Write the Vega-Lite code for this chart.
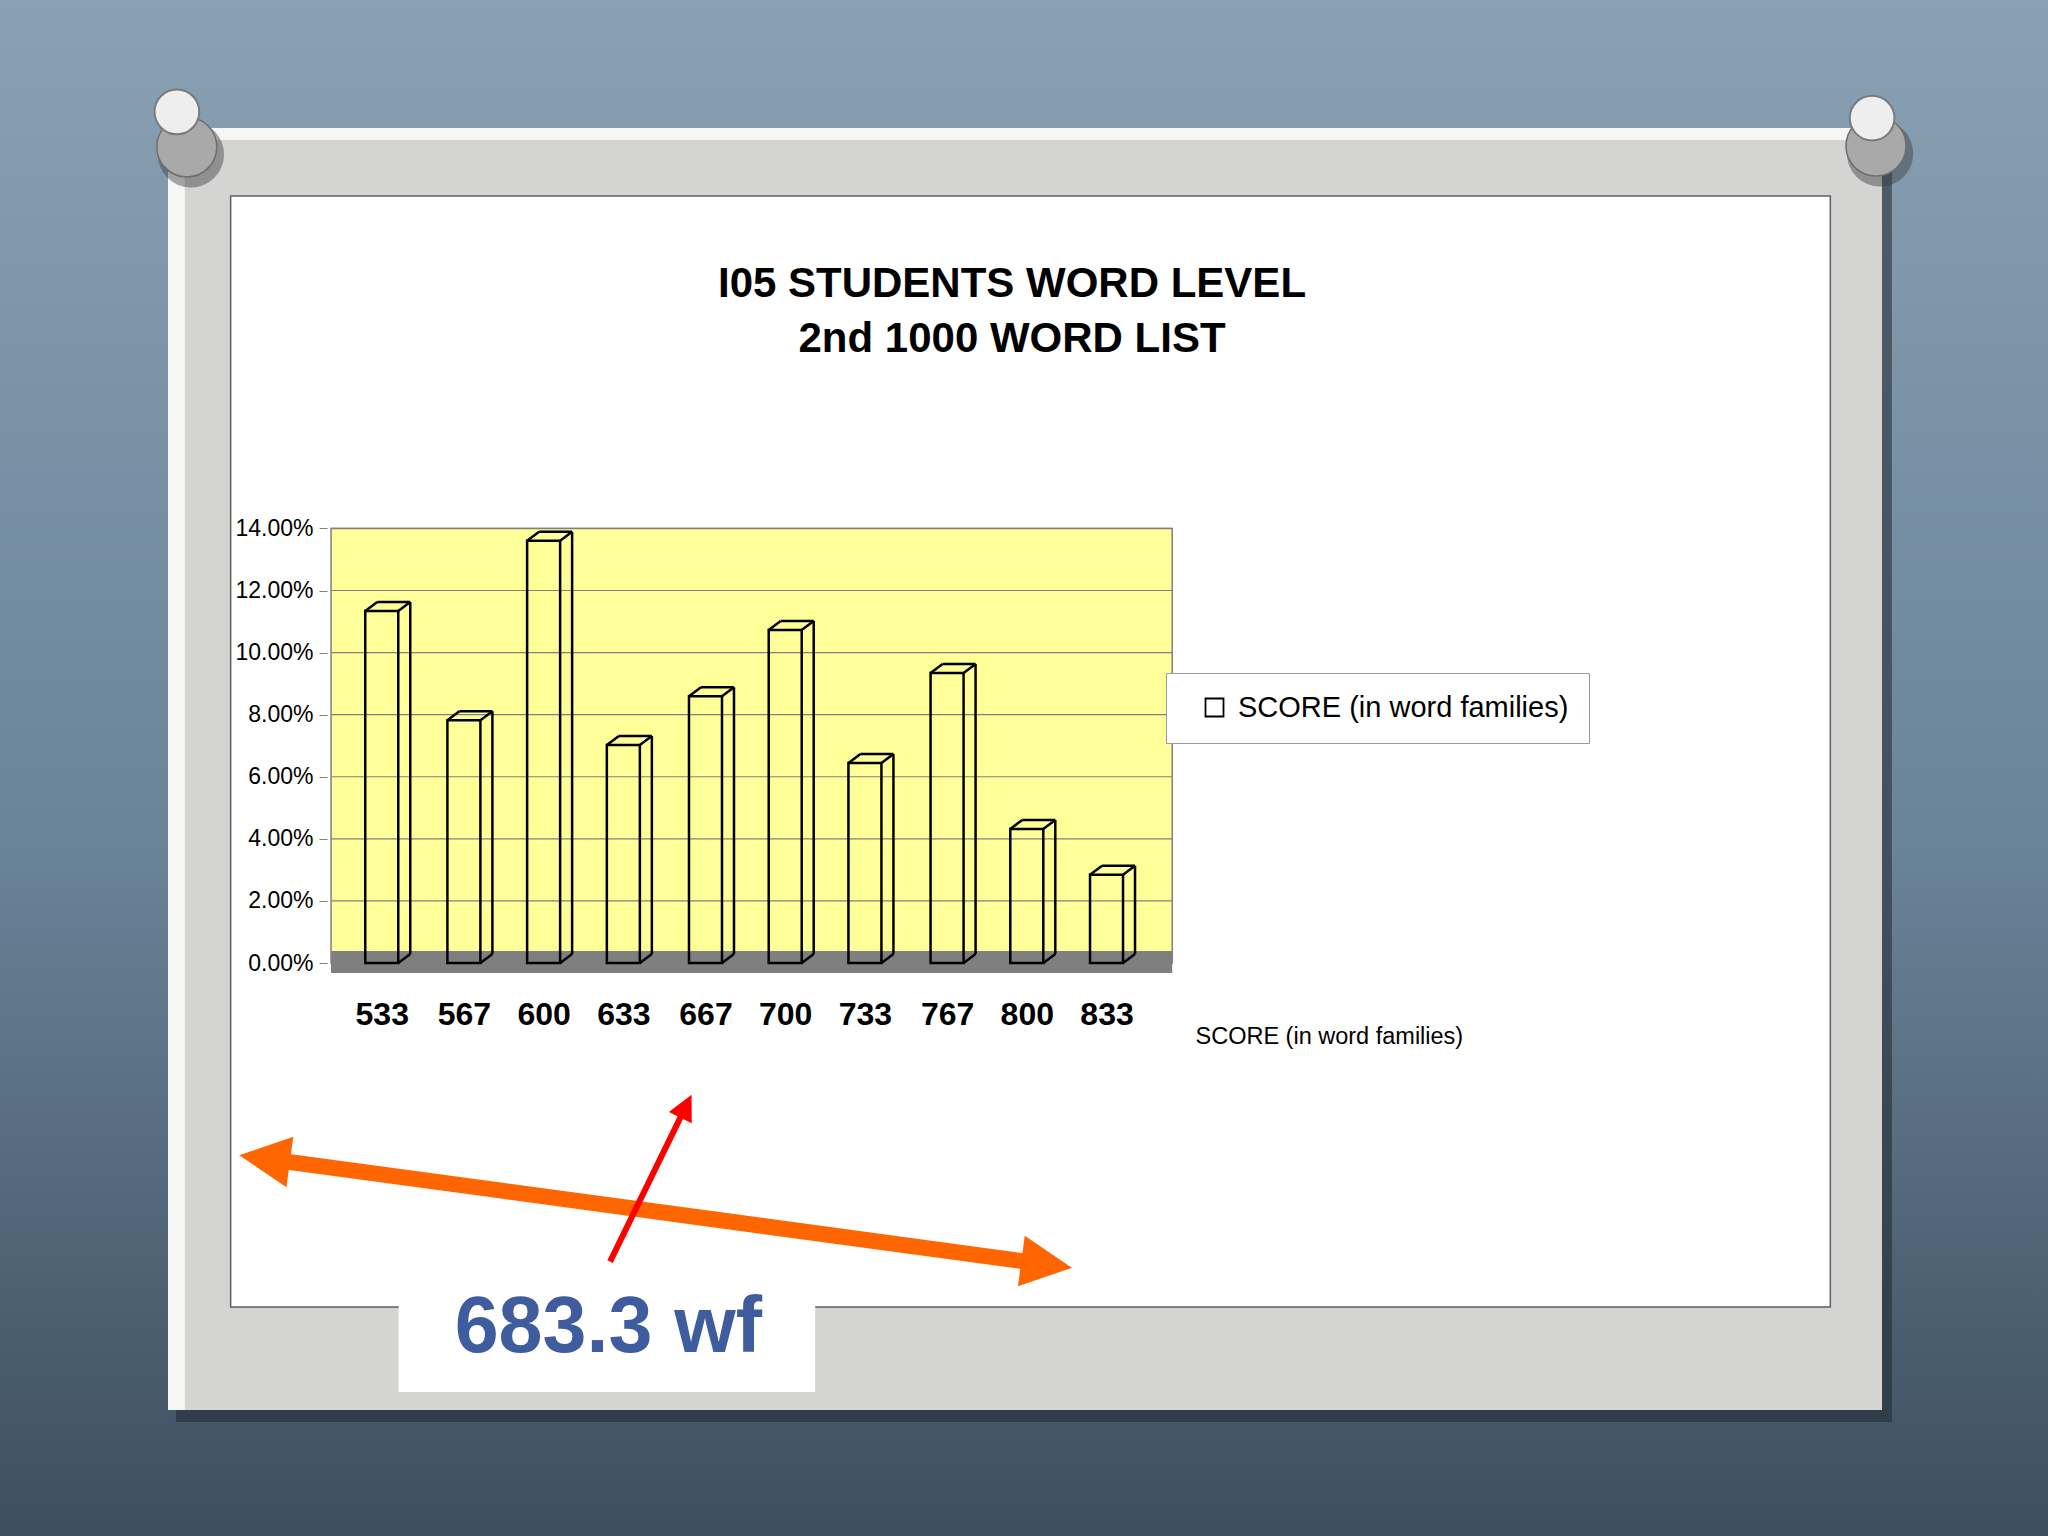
{
  "$schema": "https://vega.github.io/schema/vega-lite/v6.json",
  "width": 1724,
  "height": 1282,
  "autosize": {"type": "none"},
  "padding": {"left": 163, "top": 128, "right": 161, "bottom": 126},
  "background": "#6a8295",
  "config": {
    "view": {"fill": null, "stroke": null},
    "font": "Liberation Sans"
  },
  "title": {
    "text": ["I05 STUDENTS WORD LEVEL", "2nd 1000 WORD LIST"],
    "orient": "top",
    "anchor": "middle",
    "frame": "group",
    "offset": 0,
    "baseline": "alphabetic",
    "dy": 394,
    "dx": -13,
    "font": "Liberation Sans",
    "fontSize": 42,
    "fontWeight": "bold",
    "color": "black",
    "lineHeight": 55
  },
  "data": {
    "values": [
      {"score": 533, "pct": 0.1134, "series": "SCORE (in word families)"},
      {"score": 567, "pct": 0.0782, "series": "SCORE (in word families)"},
      {"score": 600, "pct": 0.1360, "series": "SCORE (in word families)"},
      {"score": 633, "pct": 0.0702, "series": "SCORE (in word families)"},
      {"score": 667, "pct": 0.0859, "series": "SCORE (in word families)"},
      {"score": 700, "pct": 0.1073, "series": "SCORE (in word families)"},
      {"score": 733, "pct": 0.0644, "series": "SCORE (in word families)"},
      {"score": 767, "pct": 0.0934, "series": "SCORE (in word families)"},
      {"score": 800, "pct": 0.0432, "series": "SCORE (in word families)"},
      {"score": 833, "pct": 0.0284, "series": "SCORE (in word families)"}
    ]
  },
  "layer": [
    {
      "data": {"values": [{}]},
      "mark": {
        "type": "rect",
        "fill": {
          "gradient": "linear",
          "x1": 0, "y1": 0, "x2": 0, "y2": 1,
          "stops": [
            {"offset": 0, "color": "#8aa1b3"},
            {"offset": 0.55, "color": "#6b8397"},
            {"offset": 1, "color": "#3d4e5f"}
          ]
        }
      },
      "encoding": {
        "x": {"datum": 370},
        "x2": {"datum": 1230},
        "y": {"datum": 0.3102},
        "y2": {"datum": -0.1846}
      }
    },
    {
      "data": {"values": [{}]},
      "mark": {"type": "rect", "color": "#1f2831", "opacity": 0.55},
      "encoding": {
        "x": {"datum": 447.8},
        "x2": {"datum": 1158.1},
        "y": {"datum": 0.2658},
        "y2": {"datum": -0.1479}
      }
    },
    {
      "data": {"values": [{}]},
      "mark": {"type": "rect", "color": "#d4d4d2"},
      "encoding": {
        "x": {"datum": 444.52},
        "x2": {"datum": 1153.99},
        "y": {"datum": 0.269},
        "y2": {"datum": -0.144}
      }
    },
    {
      "data": {"values": [{}]},
      "mark": {"type": "rect", "color": "#f6f6f4"},
      "encoding": {
        "x": {"datum": 444.52},
        "x2": {"datum": 1153.99},
        "y": {"datum": 0.269},
        "y2": {"datum": 0.2651}
      }
    },
    {
      "data": {"values": [{}]},
      "mark": {"type": "rect", "color": "#f6f6f4"},
      "encoding": {
        "x": {"datum": 444.52},
        "x2": {"datum": 451.5},
        "y": {"datum": 0.269},
        "y2": {"datum": -0.144}
      }
    },
    {
      "data": {"values": [{}]},
      "mark": {"type": "rect", "fill": "white", "stroke": "#5f5f5f", "strokeWidth": 1.5},
      "encoding": {
        "x": {"datum": 470.45},
        "x2": {"datum": 1132.6},
        "y": {"datum": 0.2471},
        "y2": {"datum": -0.1108}
      }
    },
    {
      "data": {"values": [{}]},
      "mark": {"type": "rect", "fill": "white"},
      "encoding": {
        "x": {"datum": 540.0},
        "x2": {"datum": 712.4},
        "y": {"datum": -0.1086},
        "y2": {"datum": -0.1382}
      }
    },
    {
      "data": {"values": [{}]},
      "mark": {"type": "rect", "fill": "#ffff99", "stroke": "#808080", "strokeWidth": 1.5},
      "encoding": {
        "x": {"datum": 512.0},
        "x2": {"datum": 860.2},
        "y": {"datum": 0.14},
        "y2": {"datum": 0}
      }
    },
    {
      "data": {"values": [{}]},
      "mark": {"type": "rect", "fill": "#7f7f7f"},
      "encoding": {
        "x": {"datum": 512.0},
        "x2": {"datum": 860.2},
        "y": {"datum": 0.0039},
        "y2": {"datum": -0.0032}
      }
    },
    {
      "data": {
        "values": [
          {"level": 0.02}, {"level": 0.04}, {"level": 0.06}, {"level": 0.08},
          {"level": 0.10}, {"level": 0.12}, {"level": 0.14}
        ]
      },
      "mark": {"type": "rule", "color": "#808080", "strokeWidth": 1.2},
      "encoding": {
        "x": {"datum": 512.0},
        "x2": {"datum": 860.2},
        "y": {"field": "level", "type": "quantitative"}
      }
    },
    {
      "mark": {"type": "bar", "orient": "vertical", "size": 33, "fill": "transparent", "strokeWidth": 2.5},
      "encoding": {
        "x": {
          "field": "score",
          "type": "quantitative",
          "scale": {"domain": [444.52, 1153.99], "nice": false, "zero": false},
          "axis": {
            "values": [533, 567, 600, 633, 667, 700, 733, 767, 800, 833],
            "format": "d",
            "offset": -437,
            "zindex": 2,
            "domain": false,
            "ticks": false,
            "grid": false,
            "labelFont": "Liberation Sans Narrow, Liberation Sans",
            "labelFontWeight": "bold",
            "labelFontSize": 32,
            "labelColor": "black",
            "labelPadding": 26,
            "title": "SCORE (in word families)",
            "titleFont": "Liberation Sans",
            "titleFontWeight": "normal",
            "titleFontSize": 23.5,
            "titleColor": "black",
            "titleX": 1032,
            "titleY": 70,
            "titleAlign": "left",
            "titleBaseline": "alphabetic"
          }
        },
        "y": {
          "field": "pct",
          "type": "quantitative",
          "scale": {"domain": [-0.144, 0.269], "nice": false, "zero": false},
          "axis": {
            "values": [0, 0.02, 0.04, 0.06, 0.08, 0.10, 0.12, 0.14],
            "format": ".2%",
            "offset": -164,
            "zindex": 2,
            "domain": false,
            "grid": false,
            "tickSize": 8,
            "tickColor": "#808080",
            "labelFont": "Liberation Sans",
            "labelFontSize": 23,
            "labelPadding": 6,
            "labelColor": "black",
            "title": null
          }
        },
        "y2": {"datum": 0},
        "stroke": {
          "field": "series",
          "type": "nominal",
          "scale": {"range": ["#000000"]},
          "legend": {
            "orient": "none",
            "legendX": 1003,
            "legendY": 545,
            "zindex": 2,
            "title": null,
            "fillColor": "white",
            "strokeColor": "#9b9b9b",
            "padding": 20,
            "symbolType": "square",
            "symbolSize": 324,
            "symbolFillColor": "white",
            "symbolStrokeColor": "black",
            "symbolStrokeWidth": 1.8,
            "symbolOffset": 14,
            "labelFont": "Liberation Sans",
            "labelFontSize": 29,
            "labelLimit": 600,
            "labelColor": "black",
            "labelOffset": 9
          }
        }
      }
    },
    {
      "mark": {"type": "rule", "color": "black", "strokeWidth": 2.5, "xOffset": 28.5, "yOffset": -9, "y2Offset": -9},
      "encoding": {
        "x": {"field": "score", "type": "quantitative"},
        "y": {"field": "pct", "type": "quantitative"},
        "y2": {"datum": 0}
      }
    },
    {
      "mark": {"type": "rule", "color": "black", "strokeWidth": 2.5, "xOffset": -4.5, "x2Offset": 28.5, "yOffset": -9},
      "encoding": {
        "x": {"field": "score", "type": "quantitative"},
        "x2": {"field": "score"},
        "y": {"field": "pct", "type": "quantitative"}
      }
    },
    {
      "mark": {"type": "rule", "color": "black", "strokeWidth": 2.5, "xOffset": -16.5, "x2Offset": -4.5, "y2Offset": -9},
      "encoding": {
        "x": {"field": "score", "type": "quantitative"},
        "x2": {"field": "score"},
        "y": {"field": "pct", "type": "quantitative"},
        "y2": {"field": "pct"}
      }
    },
    {
      "mark": {"type": "rule", "color": "black", "strokeWidth": 2.5, "xOffset": 16.5, "x2Offset": 28.5, "y2Offset": -9},
      "encoding": {
        "x": {"field": "score", "type": "quantitative"},
        "x2": {"field": "score"},
        "y": {"field": "pct", "type": "quantitative"},
        "y2": {"field": "pct"}
      }
    },
    {
      "mark": {"type": "rule", "color": "black", "strokeWidth": 2.5, "xOffset": 16.5, "x2Offset": 28.5, "y2Offset": -9},
      "encoding": {
        "x": {"field": "score", "type": "quantitative"},
        "x2": {"field": "score"},
        "y": {"datum": 0},
        "y2": {"datum": 0}
      }
    },
    {
      "data": {"values": [{}]},
      "mark": {"type": "rule", "color": "#ff6600", "strokeWidth": 16, "strokeCap": "butt"},
      "encoding": {
        "x": {"datum": 484.5},
        "x2": {"datum": 808.2},
        "y": {"datum": -0.063},
        "y2": {"datum": -0.0971}
      }
    },
    {
      "data": {"values": [{}]},
      "mark": {"type": "point", "shape": "M-1,-1L1,0L-1,1Z", "filled": true, "color": "#ff6600", "opacity": 1, "strokeWidth": 0, "size": 2600, "angle": 7.7},
      "encoding": {
        "x": {"datum": 808.2},
        "y": {"datum": -0.0971}
      }
    },
    {
      "data": {"values": [{}]},
      "mark": {"type": "point", "shape": "M1,-1L-1,0L1,1Z", "filled": true, "color": "#ff6600", "opacity": 1, "strokeWidth": 0, "size": 2600, "angle": 7.7},
      "encoding": {
        "x": {"datum": 484.5},
        "y": {"datum": -0.063}
      }
    },
    {
      "data": {"values": [{}]},
      "mark": {"type": "rule", "color": "#ff0000", "strokeWidth": 6, "strokeCap": "butt"},
      "encoding": {
        "x": {"datum": 627.5},
        "x2": {"datum": 658.9},
        "y": {"datum": -0.0962},
        "y2": {"datum": -0.0461}
      }
    },
    {
      "data": {"values": [{}]},
      "mark": {"type": "point", "shape": "M0,-1L1,1L-1,1Z", "filled": true, "color": "#ff0000", "opacity": 1, "strokeWidth": 0, "size": 650, "angle": 26.1},
      "encoding": {
        "x": {"datum": 658.9},
        "y": {"datum": -0.0461}
      }
    },
    {
      "data": {"values": [{"label": "683.3 wf"}]},
      "mark": {"type": "text", "font": "Liberation Sans", "fontWeight": "bold", "fontSize": 79, "color": "#3f5c9e", "align": "center", "baseline": "alphabetic"},
      "encoding": {
        "x": {"datum": 626.8},
        "y": {"datum": -0.1253},
        "text": {"field": "label"}
      }
    },
    {
      "data": {"values": [{}]},
      "mark": {"type": "circle", "color": "#3a3f44", "opacity": 0.45, "size": 4400},
      "encoding": {
        "x": {"datum": 454.0},
        "y": {"datum": 0.2605}
      }
    },
    {
      "data": {"values": [{}]},
      "mark": {"type": "circle", "color": "#a9a9a9", "opacity": 1, "size": 3600, "stroke": "#6e6e6e", "strokeWidth": 1.5},
      "encoding": {
        "x": {"datum": 452.3},
        "y": {"datum": 0.2629}
      }
    },
    {
      "data": {"values": [{}]},
      "mark": {"type": "circle", "color": "#eeeeee", "opacity": 1, "size": 2000, "stroke": "#7a7a7a", "strokeWidth": 2},
      "encoding": {
        "x": {"datum": 448.2},
        "y": {"datum": 0.2742}
      }
    },
    {
      "data": {"values": [{}]},
      "mark": {"type": "circle", "color": "#3a3f44", "opacity": 0.45, "size": 4400},
      "encoding": {
        "x": {"datum": 1153.2},
        "y": {"datum": 0.2608}
      }
    },
    {
      "data": {"values": [{}]},
      "mark": {"type": "circle", "color": "#a9a9a9", "opacity": 1, "size": 3600, "stroke": "#6e6e6e", "strokeWidth": 1.5},
      "encoding": {
        "x": {"datum": 1151.5},
        "y": {"datum": 0.2632}
      }
    },
    {
      "data": {"values": [{}]},
      "mark": {"type": "circle", "color": "#eeeeee", "opacity": 1, "size": 2000, "stroke": "#7a7a7a", "strokeWidth": 2},
      "encoding": {
        "x": {"datum": 1149.9},
        "y": {"datum": 0.2722}
      }
    }
  ]
}
